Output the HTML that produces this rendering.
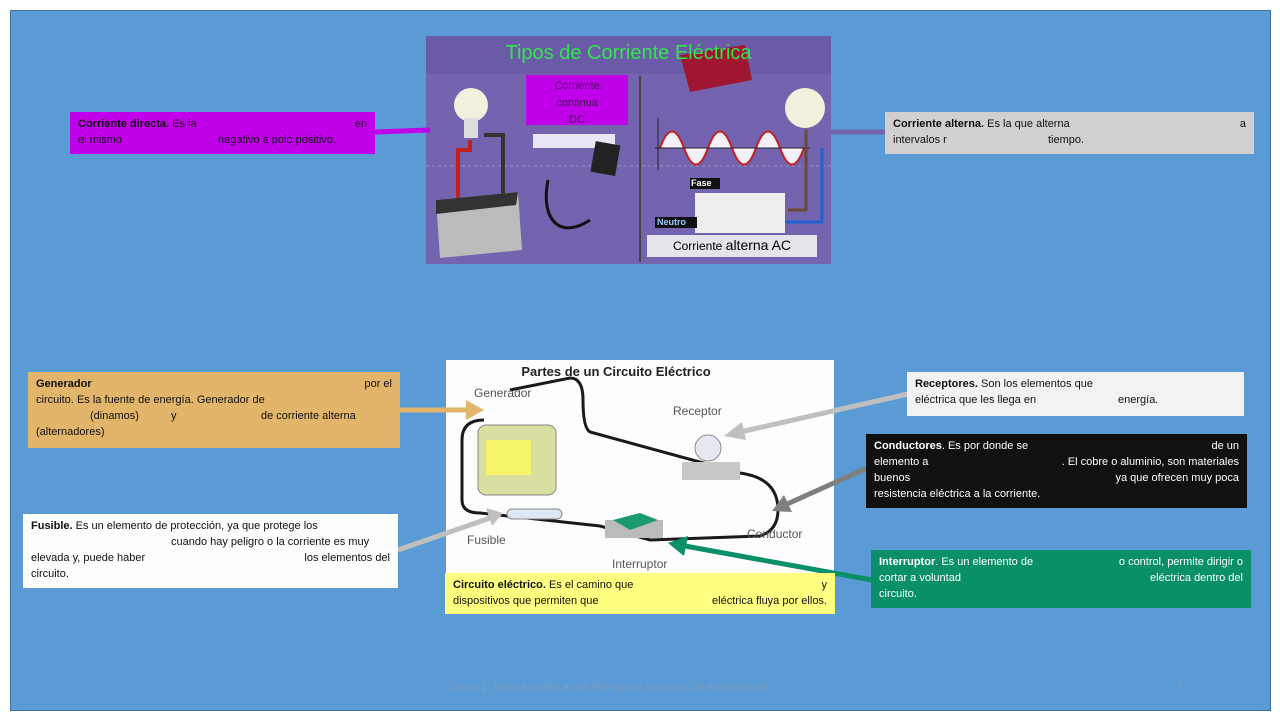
<!DOCTYPE html>
<html><head><meta charset="utf-8"><style>
body{margin:0;width:1280px;height:720px;background:#fff;position:relative;overflow:hidden;font-family:"Liberation Sans",sans-serif}
.slide{position:absolute;left:10px;top:10px;width:1259px;height:699px;background:#5b9bd5;border:1px solid #41719c}
.box{position:absolute;font-size:11px;line-height:16px;padding:4px 8px;box-sizing:border-box}
.l{position:relative;height:16px;white-space:nowrap}
.l span{position:absolute;top:0}
b{font-weight:bold}
.abs{position:absolute}
</style></head><body>
<div class="slide"></div>
<svg class="abs" style="left:0;top:0" width="1280" height="720">
<rect x="426" y="36" width="405" height="228" fill="#6b5aa8"/>
<rect x="426" y="74" width="405" height="190" fill="#7464b0"/>
<line x1="640" y1="76" x2="640" y2="262" stroke="#444" stroke-width="2"/>
<line x1="426" y1="166" x2="831" y2="166" stroke="#9b92c9" stroke-dasharray="3,3"/>
<rect x="526" y="75" width="102" height="50" fill="#c000e8"/>
<rect x="533" y="134" width="82" height="14" fill="#e9e6f5"/>
<circle cx="471" cy="105" r="17" fill="#f3f0dd"/>
<rect x="464" y="118" width="14" height="20" fill="#ddd"/>
<path d="M470 140 V150 H458 V200" stroke="#c02020" stroke-width="4" fill="none"/>
<path d="M484 135 H503 V200" stroke="#333" stroke-width="4" fill="none"/>
<polygon points="436,200 518,192 522,250 440,258" fill="#bbb"/>
<polygon points="436,200 518,192 516,205 436,214" fill="#333"/>
<rect x="593" y="143" width="25" height="31" transform="rotate(10 605 158)" fill="#222"/>
<path d="M548 180 C540 220 560 240 590 220" stroke="#111" stroke-width="3" fill="none"/>
<polygon points="680,55 745,45 752,80 690,92" fill="#a01530"/>
<path d="M660 148 Q672 115 684 148 Q696 181 708 148 Q720 115 732 148 Q744 181 756 148 Q768 115 780 148 Q792 181 804 148" stroke="#c02020" stroke-width="2" fill="#f3f0f8"/>
<line x1="655" y1="148" x2="810" y2="148" stroke="#222"/>
<line x1="658" y1="118" x2="658" y2="170" stroke="#222"/>
<circle cx="805" cy="108" r="20" fill="#f3f0dd"/>
<path d="M806 130 V210 H788" stroke="#6b4a30" stroke-width="3" fill="none"/>
<path d="M822 148 V222 H780" stroke="#2060d0" stroke-width="3" fill="none"/>
<rect x="695" y="193" width="90" height="40" fill="#eeeeee"/>
<rect x="690" y="178" width="30" height="11" fill="#111"/>
<rect x="655" y="217" width="42" height="11" fill="#111"/>
<rect x="647" y="235" width="170" height="22" fill="#e4e4ea"/>
<line x1="374" y1="132" x2="430" y2="130" stroke="#c000e8" stroke-width="5"/>
<line x1="830" y1="132" x2="885" y2="132" stroke="#7464b0" stroke-width="5"/>
<rect x="446" y="360" width="388" height="214" fill="#fdfdfd"/>
<path d="M484 420 Q462 420 462 440 V500 Q462 513 480 513 L600 526 L650 540 L760 536 Q778 530 778 510 Q778 478 740 473 L590 432 Q583 428 583 400 Q583 378 570 378 L510 390" stroke="#1a1a1a" stroke-width="3" fill="none"/>
<rect x="478" y="425" width="78" height="70" rx="8" fill="#d9dfa0" stroke="#888"/>
<rect x="486" y="440" width="45" height="35" fill="#f7f56a"/>
<rect x="682" y="462" width="58" height="18" fill="#c8c8c8"/>
<circle cx="708" cy="448" r="13" fill="#e5e8f0" stroke="#888"/>
<rect x="507" y="509" width="55" height="10" rx="5" fill="#dde8f2" stroke="#888"/>
<rect x="605" y="520" width="58" height="18" fill="#bbb"/>
<polygon points="613,520 640,513 658,520 630,530" fill="#1a9a70"/>
<line x1="400" y1="410" x2="470" y2="410" stroke="#e2b56a" stroke-width="5"/><polygon points="484,410 466,400 466,420" fill="#e2b56a"/>
<line x1="908" y1="394" x2="740" y2="432" stroke="#bfbfbf" stroke-width="5"/><polygon points="724,436 742,422 746,440" fill="#bfbfbf"/>
<line x1="867" y1="468" x2="785" y2="505" stroke="#7f7f7f" stroke-width="5"/><polygon points="772,511 784,495 792,512" fill="#7f7f7f"/>
<line x1="398" y1="550" x2="490" y2="518" stroke="#bfbfbf" stroke-width="5"/><polygon points="503,513 486,508 492,526" fill="#bfbfbf"/>
<line x1="872" y1="580" x2="685" y2="546" stroke="#0a9068" stroke-width="5"/><polygon points="668,543 688,536 684,556" fill="#0a9068"/>
</svg>
<div class="abs" style="left:426px;top:42px;width:405px;text-align:center;color:#2ee84a;font-size:20px">Tipos de Corriente Eléctrica</div>
<div class="abs" style="left:526px;top:78px;width:102px;text-align:center;color:#4a1460;font-size:11px;line-height:17px">Corriente<br>continua<br>DC</div>
<div class="abs" style="left:647px;top:237px;width:170px;text-align:center;font-size:12px">Corriente <span style="font-size:14px">alterna AC</span></div>
<div class="abs" style="left:691px;top:178px;color:#fff;font-size:9px;font-weight:bold">Fase</div>
<div class="abs" style="left:657px;top:217px;color:#9cf;font-size:9px;font-weight:bold">Neutro</div>
<div class="abs" style="left:446px;top:364px;width:340px;text-align:center;font-weight:bold;font-size:13px;color:#222">Partes de un Circuito Eléctrico</div>
<div class="abs" style="left:474px;top:386px;font-size:12px;color:#555">Generador</div>
<div class="abs" style="left:673px;top:404px;font-size:12px;color:#555">Receptor</div>
<div class="abs" style="left:747px;top:527px;font-size:12px;color:#555">Conductor</div>
<div class="abs" style="left:467px;top:533px;font-size:12px;color:#555">Fusible</div>
<div class="abs" style="left:612px;top:557px;font-size:12px;color:#555">Interruptor</div>

<div class="box" style="left:70px;top:112px;width:305px;height:42px;background:#c000e8;color:#111">
<div class="l"><span style="left:0"><b>Corriente directa.</b> Es la</span><span style="right:0">en</span></div>
<div class="l"><span style="left:0">el mismo</span><span style="left:140px">negativo a polo positivo.</span></div></div>
<div class="box" style="left:885px;top:112px;width:369px;height:42px;background:#d0d0d0;color:#111">
<div class="l"><span style="left:0"><b>Corriente alterna.</b> Es la que alterna</span><span style="right:0">a</span></div>
<div class="l"><span style="left:0">intervalos r</span><span style="left:155px">tiempo.</span></div></div>
<div class="box" style="left:28px;top:372px;width:372px;height:76px;background:#e2b56a;color:#111">
<div class="l"><span style="left:0"><b>Generador</b></span><span style="right:0">por el</span></div>
<div class="l"><span style="left:0">circuito. Es la fuente de energía. Generador de</span></div>
<div class="l"><span style="left:54px">(dinamos)</span><span style="left:135px">y</span><span style="left:225px">de corriente alterna</span></div>
<div class="l"><span style="left:0">(alternadores)</span></div></div>
<div class="box" style="left:23px;top:514px;width:375px;height:74px;background:#fdfdfd;color:#111">
<div class="l"><span style="left:0"><b>Fusible.</b> Es un elemento de protección, ya que protege los</span></div>
<div class="l"><span style="left:140px">cuando hay peligro o la corriente es muy</span></div>
<div class="l"><span style="left:0">elevada y, puede haber</span><span style="right:0">los elementos del</span></div>
<div class="l"><span style="left:0">circuito.</span></div></div>
<div class="box" style="left:907px;top:372px;width:337px;height:44px;background:#f2f2f2;color:#111">
<div class="l"><span style="left:0"><b>Receptores.</b> Son los elementos que</span></div>
<div class="l"><span style="left:0">eléctrica que les llega en</span><span style="left:203px">energía.</span></div></div>
<div class="box" style="left:866px;top:434px;width:381px;height:74px;background:#111;color:#fff">
<div class="l"><span style="left:0"><b>Conductores</b>. Es por donde se</span><span style="right:0">de un</span></div>
<div class="l"><span style="left:0">elemento a</span><span style="right:0">. El cobre o aluminio, son materiales</span></div>
<div class="l"><span style="left:0">buenos</span><span style="right:0">ya que ofrecen muy poca</span></div>
<div class="l"><span style="left:0">resistencia eléctrica a la corriente.</span></div></div>
<div class="box" style="left:871px;top:550px;width:380px;height:58px;background:#0a9068;color:#fff">
<div class="l"><span style="left:0"><b>Interruptor</b>. Es un elemento de</span><span style="right:0">o control, permite dirigir o</span></div>
<div class="l"><span style="left:0">cortar a voluntad</span><span style="right:0">eléctrica dentro del</span></div>
<div class="l"><span style="left:0">circuito.</span></div></div>
<div class="box" style="left:445px;top:573px;width:390px;height:41px;background:#ffff80;color:#111">
<div class="l"><span style="left:0"><b>Circuito eléctrico.</b> Es el camino que</span><span style="right:0">y</span></div>
<div class="l"><span style="left:0">dispositivos que permiten que</span><span style="right:0">eléctrica fluya por ellos.</span></div></div>
<div class="abs" style="left:448px;top:680px;font-size:12px;color:#7a9cc0">Tema 1. Introducción a los Principios básicos de electricidad</div>
<div class="abs" style="left:1175px;top:680px;font-size:12px;color:#7a9cc0">7</div>
</body></html>
